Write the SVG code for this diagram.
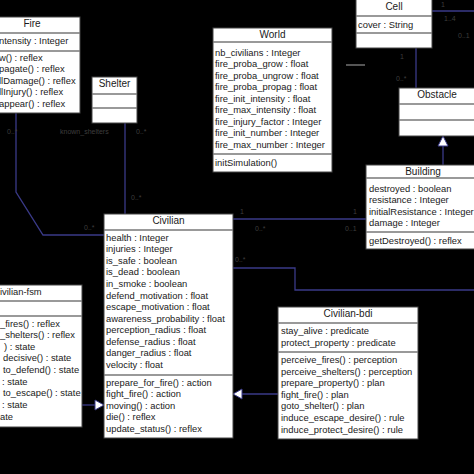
<svg xmlns="http://www.w3.org/2000/svg" width="474" height="474" viewBox="0 0 474 474">
<style>
.box{fill:#fff;stroke:#444;stroke-width:1}
.sep{stroke:#777;stroke-width:1.5}
.t{font-family:"Liberation Sans",Arial,sans-serif;font-size:9.4px;fill:#1a1a1a}
.ti{font-family:"Liberation Sans",Arial,sans-serif;font-size:10px;fill:#1a1a1a;text-anchor:middle}
.c{fill:none;stroke:#3a3a88;stroke-width:1.3}
.lb{font-family:"Liberation Sans",Arial,sans-serif;font-size:7px;fill:#3e3e3e}
.gen{fill:#fff;stroke:#3a3a88;stroke-width:1}
</style>
<rect width="474" height="474" fill="#000"/>
<g id="connectors">
<polyline class="c" points="16,113 16,192 43,235 104,235"/>
<line class="c" x1="125" y1="123" x2="125" y2="214"/>
<line class="c" x1="233" y1="219" x2="366" y2="219"/>
<polyline class="c" points="233,268 295,268 295,290 474,290"/>
<line class="c" x1="416" y1="48" x2="416" y2="88"/>
<line class="c" x1="432" y1="11" x2="474" y2="11"/>
<line class="c" x1="443" y1="146" x2="443" y2="165"/>
<polygon class="gen" points="443,136 438,146 448,146"/>
<line class="c" x1="82" y1="405" x2="95" y2="405"/>
<polygon class="gen" points="104,405 95,400 95,410"/>
<line class="c" x1="242" y1="394" x2="278" y2="394"/>
<polygon class="gen" points="233,394 242,389 242,399"/>
<line x1="346" y1="65" x2="365" y2="65" stroke="#aaa" stroke-width="1"/>
<text class="lb" x="7" y="134">0..*</text>
<text class="lb" x="60" y="134">known_shelters</text>
<text class="lb" x="136" y="134">0..*</text>
<text class="lb" x="131" y="200">0..*</text>
<text class="lb" x="84" y="230">0..*</text>
<text class="lb" x="240" y="214">1</text>
<text class="lb" x="255" y="231">0..*</text>
<text class="lb" x="353" y="214">1</text>
<text class="lb" x="345" y="231">0..1</text>
<text class="lb" x="235" y="262">0..*</text>
<text class="lb" x="400" y="59">1</text>
<text class="lb" x="396" y="81">0..*</text>
<text class="lb" x="441" y="7">1</text>
<text class="lb" x="444" y="21">1..4</text>
<text class="lb" x="458" y="38">0..1</text>
</g>
<g id="Fire">
<rect class="box" x="-5" y="17" width="85" height="96"/>
<line class="sep" x1="-5" y1="33" x2="80" y2="33"/>
<line class="sep" x1="-5" y1="51" x2="80" y2="51"/>
<text class="ti" x="32" y="26.5">Fire</text>
<text class="t" x="-1" y="43.5">ntensity : Integer</text>
<text class="t" x="-1" y="60.5">w() : reflex</text>
<text class="t" x="-1" y="72">pagate() : reflex</text>
<text class="t" x="-1" y="83.5">llDamage() : reflex</text>
<text class="t" x="-1" y="95">llInjury() : reflex</text>
<text class="t" x="-1" y="107">appear() : reflex</text>
</g>
<g id="Shelter">
<rect class="box" x="92" y="77" width="45" height="46"/>
<line class="sep" x1="92" y1="94" x2="137" y2="94"/>
<line class="sep" x1="92" y1="108" x2="137" y2="108"/>
<text class="ti" x="114.5" y="86.5">Shelter</text>
</g>
<g id="World">
<rect class="box" x="213" y="28" width="119" height="144"/>
<line class="sep" x1="213" y1="42" x2="332" y2="42"/>
<line class="sep" x1="213" y1="154" x2="332" y2="154"/>
<text class="ti" x="272.5" y="37.5">World</text>
<text class="t" x="215" y="55.5">nb_civilians : Integer</text>
<text class="t" x="215" y="67">fire_proba_grow : float</text>
<text class="t" x="215" y="78.5">fire_proba_ungrow : float</text>
<text class="t" x="215" y="90">fire_proba_propag : float</text>
<text class="t" x="215" y="101.5">fire_init_intensity : float</text>
<text class="t" x="215" y="113">fire_max_intensity : float</text>
<text class="t" x="215" y="124.5">fire_injury_factor : Integer</text>
<text class="t" x="215" y="136">fire_init_number : Integer</text>
<text class="t" x="215" y="147.5">fire_max_number : Integer</text>
<text class="t" x="215" y="165.5">initSimulation()</text>
</g>
<g id="Cell">
<rect class="box" x="356" y="-2" width="76" height="50"/>
<line class="sep" x1="356" y1="16" x2="432" y2="16"/>
<line class="sep" x1="356" y1="33" x2="432" y2="33"/>
<text class="ti" x="394" y="9.5">Cell</text>
<text class="t" x="358" y="27.5">cover : String</text>
</g>
<g id="Obstacle">
<rect class="box" x="399" y="88" width="80" height="48"/>
<line class="sep" x1="399" y1="104" x2="479" y2="104"/>
<line class="sep" x1="399" y1="120" x2="479" y2="120"/>
<text class="ti" x="437" y="97.5">Obstacle</text>
</g>
<g id="Building">
<rect class="box" x="366" y="165" width="113" height="84"/>
<line class="sep" x1="366" y1="178" x2="479" y2="178"/>
<line class="sep" x1="366" y1="232" x2="479" y2="232"/>
<text class="ti" x="423" y="174.5">Building</text>
<text class="t" x="369" y="191.5">destroyed : boolean</text>
<text class="t" x="369" y="203">resistance : Integer</text>
<text class="t" x="369" y="214.5">initialResistance : Integer</text>
<text class="t" x="369" y="226">damage : Integer</text>
<text class="t" x="369" y="243.5">getDestroyed() : reflex</text>
</g>
<g id="Civilian">
<rect class="box" x="104" y="214" width="129" height="224"/>
<line class="sep" x1="104" y1="230" x2="233" y2="230"/>
<line class="sep" x1="104" y1="375" x2="233" y2="375"/>
<text class="ti" x="168.5" y="223.5">Civilian</text>
<text class="t" x="106" y="240.5">health : Integer</text>
<text class="t" x="106" y="252">injuries : Integer</text>
<text class="t" x="106" y="263.5">is_safe : boolean</text>
<text class="t" x="106" y="275">is_dead : boolean</text>
<text class="t" x="106" y="286.5">in_smoke : boolean</text>
<text class="t" x="106" y="298.5">defend_motivation : float</text>
<text class="t" x="106" y="310">escape_motivation : float</text>
<text class="t" x="106" y="321.5">awareness_probability : float</text>
<text class="t" x="106" y="333">perception_radius : float</text>
<text class="t" x="106" y="344.5">defense_radius : float</text>
<text class="t" x="106" y="356">danger_radius : float</text>
<text class="t" x="106" y="367.5">velocity : float</text>
<text class="t" x="106" y="385.5">prepare_for_fire() : action</text>
<text class="t" x="106" y="397">fight_fire() : action</text>
<text class="t" x="106" y="408.5">moving() : action</text>
<text class="t" x="106" y="420">die() : reflex</text>
<text class="t" x="106" y="431.5">update_status() : reflex</text>
</g>
<g id="Civilian-fsm">
<rect class="box" x="-10" y="285" width="92" height="142"/>
<line class="sep" x1="-10" y1="301" x2="82" y2="301"/>
<line class="sep" x1="-10" y1="316" x2="82" y2="316"/>
<text class="t" x="0" y="294.5">ivilian-fsm</text>
<text class="t" x="0" y="326.5">_fires() : reflex</text>
<text class="t" x="0" y="338">_shelters() : reflex</text>
<text class="t" x="4" y="349.5">) : state</text>
<text class="t" x="3" y="361">decisive() : state</text>
<text class="t" x="3" y="372.5">to_defend() : state</text>
<text class="t" x="2" y="384.5">: state</text>
<text class="t" x="3" y="396">to_escape() : state</text>
<text class="t" x="2" y="407.5">: state</text>
<text class="t" x="0" y="419.5">ate</text>
</g>
<g id="Civilian-bdi">
<rect class="box" x="278" y="307" width="140" height="132"/>
<line class="sep" x1="278" y1="323" x2="418" y2="323"/>
<line class="sep" x1="278" y1="352" x2="418" y2="352"/>
<text class="ti" x="348" y="316.5">Civilian-bdi</text>
<text class="t" x="281" y="333.5">stay_alive : predicate</text>
<text class="t" x="281" y="345.5">protect_property : predicate</text>
<text class="t" x="281" y="362.5">perceive_fires() : perception</text>
<text class="t" x="281" y="374.5">perceive_shelters() : perception</text>
<text class="t" x="281" y="385.5">prepare_property() : plan</text>
<text class="t" x="281" y="397.5">fight_fire() : plan</text>
<text class="t" x="281" y="408.5">goto_shelter() : plan</text>
<text class="t" x="281" y="420.5">induce_escape_desire() : rule</text>
<text class="t" x="281" y="432.5">induce_protect_desire() : rule</text>
</g>
</svg>
